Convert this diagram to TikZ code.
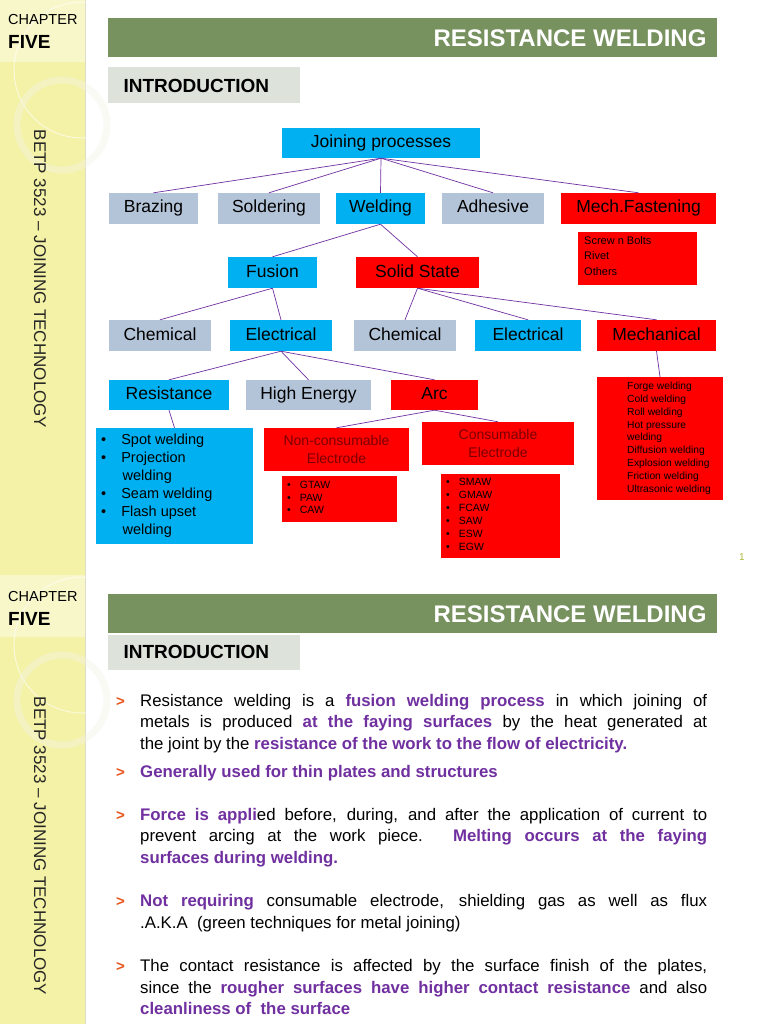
\documentclass[tikz,border=0pt]{standalone}
\usepackage{fontspec}
\setmainfont{Liberation Sans}
\definecolor{side}{HTML}{F4F2A6}
\definecolor{olive}{HTML}{77915F}
\definecolor{intro}{HTML}{DDE2DA}
\definecolor{cy}{HTML}{00B0F0}
\definecolor{gb}{HTML}{B4C4D8}
\definecolor{rd}{HTML}{FF0000}
\definecolor{pu}{HTML}{7030A0}
\definecolor{ar}{HTML}{E8561E}
\definecolor{dk}{HTML}{7A0000}
\newcommand{\bx}[7]{\node[fill=#6,inner sep=0,minimum width={#4-#2},minimum height={#5-#3},font=\fontsize{17.5}{20}\selectfont,align=center] (#1) at ({(#2+#4)/2},{(#3+#5)/2}) {#7};}
\newcommand{\hl}[1]{\textcolor{pu}{\textbf{#1}}}
\newcommand{\jline}[2]{\node[anchor=base west,inner sep=0,font=\fontsize{16.8}{19}\selectfont] at (140,#1) {\makebox[567pt][s]{#2}};}
\newcommand{\lline}[2]{\node[anchor=base west,inner sep=0,font=\fontsize{16.8}{19}\selectfont] at (140,#1) {#2};}
\newcommand{\arw}[1]{\node[anchor=base west,inner sep=0,text=ar,font=\fontsize{15}{16}\bfseries] at (116,#1) {>};}
\tikzset{lk/.style={draw=pu,line width=0.7pt}}
\begin{document}
\begin{tikzpicture}[x=1pt,y=-1pt]
\useasboundingbox (0,0) rectangle (768,1024);
\fill[white] (0,0) rectangle (768,1024);
\fill[side] (0,0) rectangle (85,1024);
\draw[side!70!black!40,line width=0.4pt] (85,0)--(85,1024);
\foreach \yy in {0,575}{
 \draw[white,line width=1pt,opacity=0.6] (82,\yy+70) circle (68);
 \draw[side!80!black!20,line width=7pt,opacity=0.4] (62,\yy+125) circle (45);
 \fill[white,opacity=0.4] (0,\yy) rectangle (85,\yy+62);
}
% slide 1
\node[anchor=base west,inner sep=0,font=\fontsize{14.5}{16}\selectfont] (c1) at (8,25) {CHAPTER};
\node[anchor=base west,inner sep=0,font=\fontsize{19}{20}\bfseries\selectfont] (f1) at (8,49) {FIVE};
\node[rotate=-90,font=\fontsize{17}{18}\selectfont,text=black!85] (s1) at (40,279) {BETP 3523 – JOINING TECHNOLOGY};
\bx{t1}{108}{18}{717}{57}{olive}{}
\node[anchor=east,text=white,font=\fontsize{24}{26}\bfseries\selectfont] at (710,38) {RESISTANCE WELDING};
\bx{i1}{108}{67}{300}{103}{intro}{}
\node[anchor=west,font=\fontsize{19}{21}\bfseries\selectfont] at (120,86) {INTRODUCTION};

\tikzset{every node/.append style={text height=12.5pt,text depth=3.5pt}}
\bx{jp}{282}{128}{480}{158}{cy}{Joining processes}
\bx{br}{109}{193}{198}{224}{gb}{Brazing}
\bx{so}{218}{193}{320}{224}{gb}{Soldering}
\bx{we}{336}{193}{425}{224}{cy}{Welding}
\bx{ad}{442}{193}{544}{224}{gb}{Adhesive}
\bx{mf}{561}{193}{716}{224}{rd}{Mech.Fastening}
\bx{fu}{228}{257}{317}{288}{cy}{Fusion}
\bx{ss}{356}{257}{479}{288}{rd}{Solid State}
\bx{ch1}{109}{320}{211}{351}{gb}{Chemical}
\bx{el1}{230}{320}{332}{351}{cy}{Electrical}
\bx{ch2}{354}{320}{456}{351}{gb}{Chemical}
\bx{el2}{475}{320}{581}{351}{cy}{Electrical}
\bx{me}{597}{320}{716}{351}{rd}{Mechanical}
\bx{re}{109}{380}{229}{410}{cy}{Resistance}
\bx{he}{246}{380}{371}{410}{gb}{High Energy}
\bx{arc}{391}{380}{478}{410}{rd}{Arc}
\tikzset{every node/.append style={text height=,text depth=}}
\node[fill=rd,minimum width=119,minimum height=53,inner sep=0] (sb) at (637.5,258.5) {};
\node[anchor=north west,align=left,inner sep=0,font=\fontsize{11}{15.5}\selectfont] at (584,236) {Screw n Bolts\\Rivet\\Others};
\node[fill=cy,minimum width=157,minimum height=116,inner sep=0] (rl) at (174.5,486) {};
\node[anchor=north west,align=left,inner sep=0,font=\fontsize{14.5}{18}\selectfont] at (101,434) {\textbullet\hspace{15pt}Spot welding\\\textbullet\hspace{15pt}Projection\\\hspace{21.5pt}welding\\\textbullet\hspace{15pt}Seam welding\\\textbullet\hspace{15pt}Flash upset\\\hspace{21.5pt}welding};
\node[fill=rd,minimum width=126,minimum height=123,inner sep=0] (ml) at (660,438.5) {};
\node[anchor=north west,align=left,inner sep=0,font=\fontsize{10.3}{12.8}\selectfont] at (627,382) {Forge welding\\Cold welding\\Roll welding\\Hot pressure\\welding\\Diffusion welding\\Explosion welding\\Friction welding\\Ultrasonic welding};
\node[fill=rd,minimum width=145,minimum height=43,inner sep=0,align=center,text=dk,font=\fontsize{14}{18}\selectfont] (nc) at (336.5,449.5) {Non-consumable\\Electrode};
\node[fill=rd,minimum width=152,minimum height=43,inner sep=0,align=center,text=dk,font=\fontsize{14}{18}\selectfont] (co) at (498,443.5) {Consumable\\Electrode};
\node[fill=rd,minimum width=115,minimum height=46,inner sep=0] (gl) at (339.5,499) {};
\node[anchor=north west,align=left,inner sep=0,font=\fontsize{10.5}{12.5}\selectfont] at (287,481) {\textbullet\hspace{9pt}GTAW\\\textbullet\hspace{9pt}PAW\\\textbullet\hspace{9pt}CAW};
\node[fill=rd,minimum width=119,minimum height=84,inner sep=0] (sl) at (500.5,516) {};
\node[anchor=north west,align=left,inner sep=0,font=\fontsize{10.5}{12.9}\selectfont] at (446,478) {\textbullet\hspace{9pt}SMAW\\\textbullet\hspace{9pt}GMAW\\\textbullet\hspace{9pt}FCAW\\\textbullet\hspace{9pt}SAW\\\textbullet\hspace{9pt}ESW\\\textbullet\hspace{9pt}EGW};
\node[text=olive!60!yellow,font=\fontsize{10}{12}\selectfont] (pg) at (742,557) {1};

\foreach \c in {br,so,we,ad,mf} \draw[lk] (jp.south)--(\c.north);
\draw[lk] (we.south)--(fu.north); \draw[lk] (we.south)--(ss.north);
\draw[lk] (fu.south)--(ch1.north); \draw[lk] (fu.south)--(el1.north);
\foreach \c in {ch2,el2,me} \draw[lk] (ss.south)--(\c.north);
\foreach \c in {re,he,arc} \draw[lk] (el1.south)--(\c.north);
\draw[lk] (re.south)--(rl.north);
\draw[lk] (me.south)--(ml.north);
\draw[lk] (arc.south)--(nc.north); \draw[lk] (arc.south)--(co.north);

% slide 2
\node[anchor=base west,inner sep=0,font=\fontsize{14.5}{16}\selectfont] (c2) at (8,601) {CHAPTER};
\node[anchor=base west,inner sep=0,font=\fontsize{19}{20}\bfseries\selectfont] (f2) at (8,625) {FIVE};
\node[rotate=-90,font=\fontsize{17}{18}\selectfont,text=black!85] (s2) at (40,846) {BETP 3523 – JOINING TECHNOLOGY};
\bx{t2}{108}{594}{717}{633}{olive}{}
\node[anchor=east,text=white,font=\fontsize{24}{26}\bfseries\selectfont] at (710,614) {RESISTANCE WELDING};
\bx{i2}{108}{635}{300}{670}{intro}{}
\node[anchor=west,font=\fontsize{19}{21}\bfseries\selectfont] at (120,652) {INTRODUCTION};

\arw{706}
\jline{706}{Resistance welding is a \hl{fusion welding process} in which joining of}
\jline{727}{metals is produced \hl{at the faying surfaces} by the heat generated at}
\lline{749}{the joint by the \hl{resistance of the work to the flow of electricity.}}
\arw{777}
\lline{777}{\hl{Generally used for thin plates and structures}}
\arw{820}
\jline{820}{\hl{Force is appli}ed before, during, and after the application of current to}
\jline{841}{prevent arcing at the work piece. \hl{Melting occurs at the faying}}
\lline{863}{\hl{surfaces during welding.}}
\arw{906}
\jline{906}{\hl{Not requiring} consumable electrode, shielding gas as well as flux}
\lline{928}{.A.K.A\ \ (green techniques for metal joining)}
\arw{971}
\jline{971}{The contact resistance is affected by the surface finish of the plates,}
\jline{993}{since the \hl{rougher surfaces have higher contact resistance} and also}
\lline{1014}{\hl{cleanliness of\ \ the surface}}
\end{tikzpicture}
\end{document}
